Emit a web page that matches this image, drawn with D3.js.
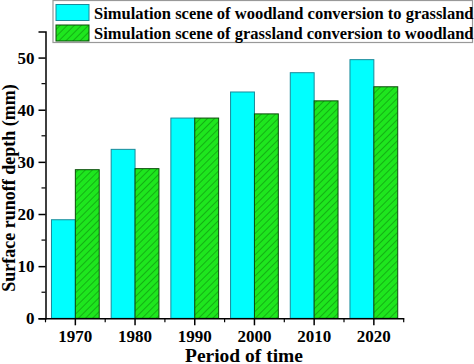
<!DOCTYPE html>
<html>
<head>
<meta charset="utf-8">
<script src="https://cdn.jsdelivr.net/npm/d3@7"></script>
<style>
html,body{margin:0;padding:0;background:#fff;}
svg{display:block;font-family:"Liberation Serif","Times New Roman",serif;font-weight:bold;}
</style>
</head>
<body>
<svg id="chart" width="474" height="364"></svg>
<script>
const periods = ["1970","1980","1990","2000","2010","2020"];
const woodToGrass = [18.9, 32.4, 38.4, 43.4, 47.1, 49.6];
const grassToWood = [28.5, 28.7, 38.4, 39.2, 41.7, 44.4];
const seriesNames = ["Simulation scene of woodland conversion to grassland","Simulation scene of grassland conversion to woodland"];
const yTicks = [0,10,20,30,40,50];

const svg = d3.select("#chart");
const m = {left:45.5, right:403.7, top:31.5, bottom:318.3};

const defs = svg.append("defs");
const pat = defs.append("pattern").attr("id","hatch").attr("patternUnits","userSpaceOnUse")
  .attr("width",5).attr("height",5).attr("patternTransform","rotate(45)");
pat.append("rect").attr("width",5).attr("height",5).attr("fill","#1ee61e");
pat.append("line").attr("x1",0).attr("y1",0).attr("x2",0).attr("y2",5).attr("stroke","#0a7a0a").attr("stroke-width",1);

const x = d3.scaleBand().domain(periods).range([m.left,m.right]).paddingInner(0.2).paddingOuter(0.1);
const xOuter = d3.scaleBand().domain(periods).range([m.left,m.right]);
const xs = d3.scaleBand().domain([0,1]).range([0,x.bandwidth()]);
const y = d3.scaleLinear().domain([0,55]).range([m.bottom,m.top]);

const data = periods.map((p,i)=>({p, v:[woodToGrass[i], grassToWood[i]]}));
const g = svg.append("g");
data.forEach(d=>{
  const cx = xOuter(d.p)+xOuter.bandwidth()/2;
  const w = x.bandwidth();
  [0,1].forEach(k=>{
    g.append("rect")
      .attr("x", cx - w/2 + xs(k))
      .attr("y", y(d.v[k]))
      .attr("width", xs.bandwidth())
      .attr("height", y(0)-y(d.v[k]))
      .attr("fill", k===0 ? "#00ffff" : "url(#hatch)")
      .attr("stroke", k===0 ? "#1a8a9a" : "#0b4d0b")
      .attr("stroke-width",1);
  });
});

// y axis
const yAxis = d3.axisLeft(y).tickValues(yTicks).tickSize(7).tickPadding(4);
const ya = svg.append("g").attr("transform",`translate(${m.left},0)`).call(yAxis);
ya.selectAll(".tick text").attr("font-size",17).attr("font-family","Liberation Serif").attr("font-weight","bold").attr("fill","#000");
ya.select(".domain").attr("stroke","#000").attr("stroke-width",1.5);
ya.selectAll(".tick line").attr("stroke","#000").attr("stroke-width",1.5);
const yMinor = d3.range(5,55,10);
svg.append("g").attr("transform",`translate(${m.left},0)`).selectAll("line").data(yMinor).join("line")
  .attr("x1",0).attr("x2",-4).attr("y1",d=>y(d)).attr("y2",d=>y(d)).attr("stroke","#000").attr("stroke-width",1.2);

// x axis
const xAxis = d3.axisBottom(xOuter).tickSize(7).tickPadding(5).tickSizeOuter(0);
const xa = svg.append("g").attr("transform",`translate(0,${m.bottom})`).call(xAxis);
xa.selectAll(".tick text").attr("font-size",17).attr("font-family","Liberation Serif").attr("font-weight","bold").attr("fill","#000");
xa.select(".domain").attr("stroke","#000").attr("stroke-width",1.5);
xa.selectAll(".tick line").attr("stroke","#000").attr("stroke-width",1.5);
const xMinor = periods.map(p=>xOuter(p)).concat([m.right]);
svg.append("g").attr("transform",`translate(0,${m.bottom})`).selectAll("line").data(xMinor).join("line")
  .attr("x1",d=>d).attr("x2",d=>d).attr("y1",0).attr("y2",4).attr("stroke","#000").attr("stroke-width",1.2);

// titles
svg.append("text").attr("x",244).attr("y",361.5).attr("text-anchor","middle").attr("font-size",19.5).text("Period of time");
svg.append("text").attr("transform","translate(15,188) rotate(-90)").attr("text-anchor","middle").attr("font-size",18).text("Surface runoff depth (mm)");

// legend
const lg = svg.append("g");
lg.append("rect").attr("x",53).attr("y",0.5).attr("width",419.5).attr("height",42).attr("fill","#fff").attr("stroke","#999").attr("stroke-width",1.2);
seriesNames.forEach((n,i)=>{
  lg.append("rect").attr("x",56).attr("y",4.5+i*20.5).attr("width",33).attr("height",16)
    .attr("fill", i===0 ? "#00ffff" : "url(#hatch)")
    .attr("stroke", i===0 ? "#1a8a9a" : "#0b4d0b").attr("stroke-width",1);
  lg.append("text").attr("x",94).attr("y",18.5+i*20).attr("font-size",16.5).attr("fill","#000").text(n);
});
</script>
</body>
</html>
